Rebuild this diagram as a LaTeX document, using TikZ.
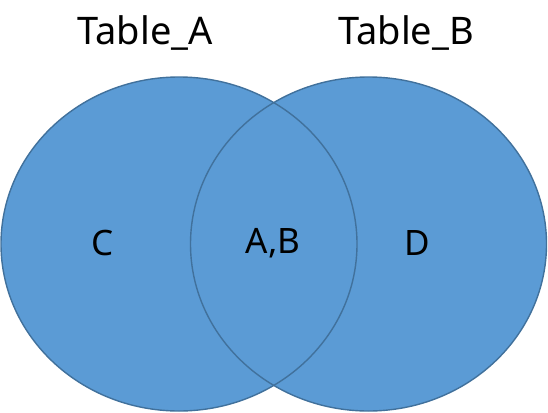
\documentclass[tikz,border=0pt]{standalone}
\usepackage{fontspec}
\setmainfont{Noto Sans}
\definecolor{vfill}{HTML}{5B9BD5}
\definecolor{vline}{HTML}{41719C}
\begin{document}
\begin{tikzpicture}[x=1pt,y=-1pt,
  setfill/.style={fill=vfill},
  setline/.style={draw=vline,line width=1.4pt},
  title/.style={font=\fontsize{38}{44}\selectfont,text=black,inner sep=0pt},
  lab/.style={font=\fontsize{35}{42}\selectfont,text=black,inner sep=0pt}]
\useasboundingbox (0,0) rectangle (548,412);
\fill[setfill] (179,244) ellipse [x radius=178,y radius=167];
\fill[setfill] (368.5,244) ellipse [x radius=178,y radius=167];
\draw[setline] (179,244) ellipse [x radius=178,y radius=167];
\draw[setline] (368.5,244) ellipse [x radius=178,y radius=167];
\node[title] (ta) at (145,33) {Table\_A};
\node[title] (tb) at (406,33) {Table\_B};
\node[lab] (c) at (103,243) {C};
\node[lab] (ab) at (273,243) {A,B};
\node[lab] (d) at (417,243) {D};
\end{tikzpicture}
\end{document}
